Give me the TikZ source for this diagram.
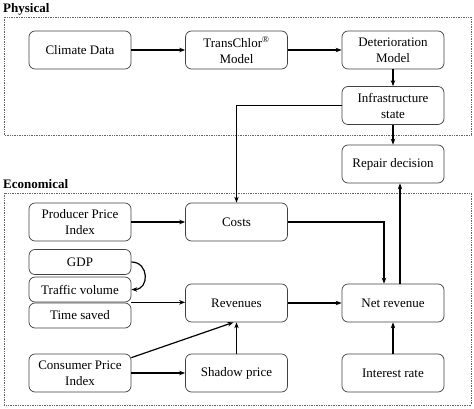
\documentclass[tikz,border=0pt]{standalone}
\usepackage{fontspec}
\setmainfont{Liberation Serif}
\usetikzlibrary{arrows.meta}
\begin{document}
\begin{tikzpicture}[x=1pt,y=-1pt,
  box/.style={draw=black!75,line width=0.7pt,rounded corners=6pt,minimum width=102pt,minimum height=38pt,inner sep=1pt,align=center,font=\fontsize{13}{16}\selectfont},
  sbox/.style={box,minimum height=25pt},
  arr/.style={-{Stealth[length=6pt,width=4.5pt]},line width=1.2pt},
  region/.style={draw=black!60,densely dotted,line width=0.7pt},
  lab/.style={font=\fontsize{13}{15}\selectfont\bfseries,anchor=west,inner sep=0pt}]
\useasboundingbox (0,0) rectangle (474,409);
% regions
\draw[region] (4,17) rectangle (471,135);
\draw[region] (4,193) rectangle (471,405);
\node[lab] (phys) at (3,9) {Physical};
\node[lab] (econ) at (3,184) {Economical};
% nodes
\node[box] (climate) at (80,50) {Climate Data};
\node[box] (transchlor) at (236.5,50) {TransChlor\textsuperscript{®}\\Model};
\node[box] (deter) at (393,50) {Deterioration\\Model};
\node[box] (infra) at (393,105.5) {Infrastructure\\state};
\node[box] (repair) at (393,164) {Repair decision};
\node[box] (ppi) at (80,222) {Producer Price\\Index};
\node[box] (costs) at (236.5,222) {Costs};
\node[sbox] (gdp) at (80,262) {GDP};
\node[sbox] (traffic) at (80,289.5) {Traffic volume};
\node[sbox] (timesaved) at (80,315.5) {Time saved};
\node[box] (revenues) at (236.5,303) {Revenues};
\node[box] (net) at (393,303) {Net revenue};
\node[box] (cpi) at (80,373) {Consumer Price\\Index};
\node[box] (shadow) at (236.5,373) {Shadow price};
\node[box] (interest) at (393,373) {Interest rate};
% connectors
\draw[arr] (climate) -- (transchlor);
\draw[arr] (transchlor) -- (deter);
\draw[arr] (deter) -- (infra);
\draw[arr] (infra) -- (repair);
\draw[arr] (infra.west) -| (costs.north);
\draw[arr] (ppi) -- (costs);
\draw[arr] (costs.east) -| ([xshift=-9pt]net.north);
\draw[arr] ([xshift=7pt]net.north) -- ([xshift=7pt]repair.south);
\draw[arr] (gdp.east) .. controls +(18,0) and +(18,0) .. (traffic.east);
\draw[arr] (traffic.south east) -- (revenues.west |- traffic.south east);
\draw[arr] (revenues) -- (net);
\draw[arr] ([yshift=-4pt]cpi.north east) -- ([xshift=-3pt]revenues.south);
\draw[arr] (cpi) -- (shadow);
\draw[arr] (shadow) -- (revenues);
\draw[arr] (interest) -- (net);
\end{tikzpicture}
\end{document}
